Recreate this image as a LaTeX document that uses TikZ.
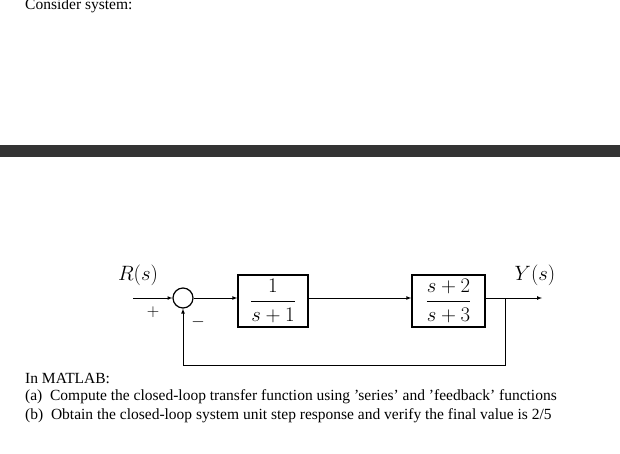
\documentclass[tikz,border=0pt]{standalone}
\usepackage{amsmath}
\usepackage{fontspec}
\setmainfont{Liberation Serif}
\newcommand{\sq}{\symbol{39}}
\begin{document}
\begin{tikzpicture}[x=1pt,y=-1pt,
  blk/.style={draw,line width=1.4pt,minimum width=70pt,minimum height=52pt,inner sep=0pt},
  sig/.style={-latex,line width=0.7pt},
  txt/.style={anchor=west,inner sep=0pt,font=\fontsize{15.5}{17}\selectfont}]
\useasboundingbox (0,0) rectangle (620,453);
\node[txt] (t0) at (25,6) {Consider system:};
\fill[black!80] (0,145) rectangle (620,157);
\node[draw,circle,line width=1.2pt,minimum size=20pt,inner sep=0pt] (sum) at (183,298) {};
\coordinate (in) at (133,298);
\node[blk] (g1) at (273,301) {\fontsize{20}{22}\selectfont$\dfrac{1}{s+1}$};
\node[blk,minimum width=73pt] (g2) at (448.5,301) {\fontsize{20}{22}\selectfont$\dfrac{s+2}{s+3}$};
\coordinate (br) at (505,298);
\coordinate (out) at (542,298);
\coordinate (fb) at (505,365);
\node (R) at (138,275) {\fontsize{20}{22}\selectfont$R(s)$};
\node (Y) at (535,275) {\fontsize{20}{22}\selectfont$Y(s)$};
\node (plus) at (153,312) {\fontsize{16}{18}\selectfont$+$};
\node (minus) at (198,322) {\fontsize{16}{18}\selectfont$-$};
\draw[sig] (in) -- (sum.west);
\draw[sig] (sum.east) -- (g1.west |- sum.east);
\draw[sig] (g1.east |- sum.east) -- (g2.west |- sum.east);
\draw[sig] (g2.east |- sum.east) -- (out);
\draw[sig] (br) -- (fb) -| (sum.south);
\node[txt] (t1) at (25,378) {In MATLAB:};
\node[txt] (t2) at (25,397) {(a)\ \ Compute the closed-loop transfer function using \sq series\sq\ and \sq feedback\sq\ functions};
\node[txt] (t3) at (25,416) {(b)\ \ Obtain the closed-loop system unit step response and verify the final value is 2/5};
\end{tikzpicture}
\end{document}
